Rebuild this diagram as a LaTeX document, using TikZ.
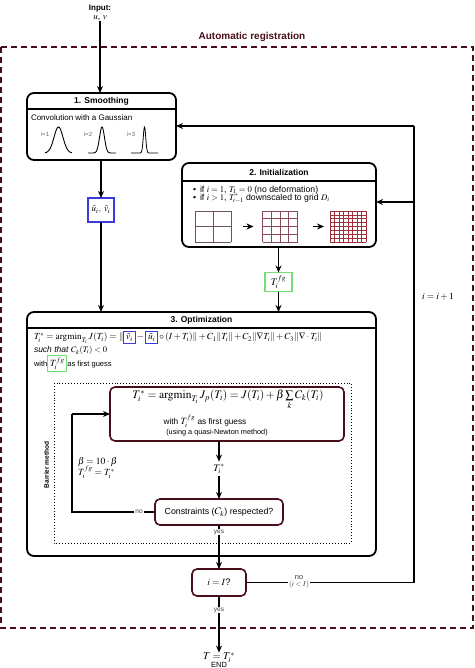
\documentclass[tikz,border=0pt]{standalone}
\usepackage{amsmath}
\usepackage{mathptmx}
\usepackage{fontspec}
\setmainfont{Liberation Sans}
\usetikzlibrary{arrows.meta}
\definecolor{dred}{HTML}{4A0E1A}
\definecolor{blu}{HTML}{3A3ADD}
\definecolor{grn}{HTML}{77DD77}
\definecolor{gridA}{HTML}{6B5555}
\definecolor{gridB}{HTML}{8A4A55}
\definecolor{gridC}{HTML}{A0303C}
\setlength{\fboxrule}{1pt}
\setlength{\fboxsep}{1.8pt}
\begin{document}
\begin{tikzpicture}[x=1pt,y=-1pt,
 every node/.style={inner sep=0pt, outer sep=0pt},
 arr/.style={-{Stealth[length=7pt,width=6pt]}, line width=1.1pt},
 plain/.style={line width=1.1pt},
 stage/.style={draw, line width=1.8pt, rounded corners=7pt},
 redbox/.style={draw=dred, line width=1.6pt, rounded corners=5pt},
 hdr/.style={font=\fontsize{8.5}{10}\selectfont\bfseries},
 txt/.style={font=\fontsize{8}{9.5}\selectfont},
 lbl/.style={font=\fontsize{6.5}{7.5}\selectfont, fill=white, inner sep=1pt, text=black!75},
 gi/.style={font=\fontsize{6}{7}\selectfont, text=black!60},
 gauss/.style={line width=0.9pt},
]
\useasboundingbox (0,0) rectangle (474,668);

% outer dashed frame
\draw[dred, line width=1.6pt, dash pattern=on 6pt off 4pt] (1,47) rectangle (473,628);
\node[font=\fontsize{10}{12}\selectfont\bfseries, text=dred] (title) at (252,37) {Automatic registration};

% input
\node[align=center, font=\fontsize{8}{9.5}\selectfont] (input) at (100,13) {\textbf{Input:}\\[-1pt]{\fontsize{9}{10}\selectfont$u$, $v$}};

% 1. Smoothing
\node[stage, minimum width=149pt, minimum height=67pt] (smooth) at (101.5,126.5) {};
\node[hdr] (smoothh) at (101.5,101) {1. Smoothing};
\draw[line width=1.4pt] (smooth.north west) ++(0,16) -- ++(149,0);
\node[txt, anchor=west] (conv) at (31,118) {Convolution with a Gaussian};
\node[gi] (g1l) at (45,134) {i=1};
\node[gi] (g2l) at (88,134) {i=2};
\node[gi] (g3l) at (131,134) {i=3};
\draw[gauss] plot[domain=-13.5:13.5, samples=61] ({58.5+\x},{153-26*exp(-\x*\x/40)});
\draw[gauss] plot[domain=-14:14, samples=61] ({102+\x},{153-26*exp(-\x*\x/12)});
\draw[gauss, line width=0.8pt] plot[domain=-13.5:13.5, samples=121] ({144.5+\x},{153-26*exp(-\x*\x/3)});

% blue box
\node[draw=blu, line width=1.2pt, minimum width=26pt, minimum height=24pt, inner sep=2pt, font=\fontsize{9}{10}\selectfont] (uv) at (101,210) {$\tilde u_i,\;\tilde v_i$};

% 2. Initialization
\node[stage, minimum width=194pt, minimum height=84pt] (init) at (279,205) {};
\node[hdr] (inith) at (279,172) {2. Initialization};
\draw[line width=1.4pt] (init.north west) ++(0,18) -- ++(194,0);
\node[font=\fontsize{8.7}{9.5}\selectfont, anchor=west, align=left] (bul) at (193,194.5) {\textbullet\hspace{4pt}if $i=1$, $T_1=0$ (no deformation)\\[-1.5pt]\textbullet\hspace{4pt}if $i>1$, $T^*_{i-1}$ downscaled to grid $D_i$};
\node[minimum width=36pt, minimum height=31pt] (gr1) at (213,226.5) {};
\node[minimum width=35pt, minimum height=31pt] (gr2) at (280,226.5) {};
\node[minimum width=36pt, minimum height=31pt] (gr3) at (348,226.5) {};
\foreach \k in {0,...,2}{
  \draw[gridA, line width=0.9pt] ({195+\k*18},211) -- ++(0,31);
  \draw[gridA, line width=0.9pt] (195,{211+\k*15.5}) -- ++(36,0);
}
\foreach \k in {0,...,4}{
  \draw[gridB, line width=0.8pt] ({262.5+\k*8.75},211) -- ++(0,31);
  \draw[gridB, line width=0.8pt] (262.5,{211+\k*7.75}) -- ++(35,0);
}
\foreach \k in {0,...,8}{
  \draw[gridC, line width=0.6pt] ({330+\k*4.5},211) -- ++(0,31);
  \draw[gridC, line width=0.6pt] (330,{211+\k*3.875}) -- ++(36,0);
}
\draw[arr, line width=1.3pt, shorten <=12pt, shorten >=9pt] (gr1.east) -- (gr2.west);
\draw[arr, line width=1.3pt, shorten <=15pt, shorten >=6pt] (gr2.east) -- (gr3.west);

% green box
\node[draw=grn, line width=1.2pt, minimum width=27pt, minimum height=19pt, inner sep=2pt, font=\fontsize{10}{11}\selectfont] (tfg) at (278.5,282) {$T_i^{fg}$};

% 3. Optimization
\node[stage, minimum width=349pt, minimum height=244pt] (opt) at (201.5,434) {};
\node[hdr] (opth) at (201.5,320) {3. Optimization};
\draw[line width=1.4pt] (opt.north west) ++(0,16) -- ++(349,0);
\node[font=\fontsize{9.3}{10}\selectfont, anchor=west] (form) at (34,337.5) {$T_i^* = \operatorname{argmin}_{T_i} J(T_i) = \|\fcolorbox{blu}{white}{$\tilde v_i$}-\fcolorbox{blu}{white}{$\tilde u_i$}\circ(I+T_i)\| + C_1\|T_i\| + C_2\|\nabla T_i\| + C_3\|\nabla\cdot T_i\|$};
\node[font=\fontsize{8.5}{9.5}\selectfont, anchor=west] (such) at (34,350.5) {\textit{such that} $C_k(T_i)<0$};
\node[font=\fontsize{7.5}{8.5}\selectfont, anchor=west] (with1) at (34,363.5) {with\fcolorbox{grn}{white}{\fontsize{9.5}{10}\selectfont$T_i^{fg}$}as first guess};

% barrier
\draw[dotted, line width=0.9pt] (54,383) rectangle (351,543);
\node[rotate=90, font=\fontsize{6.5}{8}\selectfont\bfseries] (barr) at (46.5,465) {Barrier method};
\node[redbox, minimum width=234pt, minimum height=54pt] (inner) at (227,414) {};
\node[font=\fontsize{11.5}{12}\selectfont] (iform) at (228,400) {$T_i^* = \operatorname{argmin}_{T_i} J_p(T_i) = J(T_i) + \beta \sum\limits_k C_k(T_i)$};
\node[font=\fontsize{8.3}{9}\selectfont] (with2) at (205,421) {with {\fontsize{9.5}{10}\selectfont$T_i^{fg}$} as first guess};
\node[font=\fontsize{7.3}{8}\selectfont] (qn) at (217,432.5) {(using a quasi-Newton method)};
\node[font=\fontsize{10}{11}\selectfont, inner sep=2.5pt] (tstar) at (219,469) {$T_i^*$};
\node[redbox, minimum width=128pt, minimum height=26pt, font=\fontsize{8.8}{10}\selectfont] (cons) at (219,512) {Constraints ({\fontsize{10}{11}\selectfont$C_k$}) respected?};
\node[font=\fontsize{9.5}{10.5}\selectfont, anchor=west, align=left] (beta) at (78,468) {$\beta = 10\cdot\beta$\\[-1.5pt]$T_i^{fg} = T_i^*$};
\coordinate (lb) at (72,512);
\coordinate (lt) at (72,414);
\draw[plain] (cons.west) -- (lb) -- (lt);
\draw[arr] (lt) -- (inner.west);
\node[lbl] (nolbl) at (139,512) {no};
\draw[arr] (inner.south -| cons.north) -- (tstar.north);
\draw[arr] (tstar.south) -- (cons.north);

% i = I?
\node[redbox, minimum width=54pt, minimum height=27pt, font=\fontsize{9.5}{10}\selectfont] (iI) at (219,582.5) {$i = I$?};
\draw[arr] (cons.south) -- (iI.north);
\node[lbl] (yes1) at (219,532) {yes};

% end
\node[align=center, font=\fontsize{7.5}{8.5}\selectfont] (endn) at (219,660) {{\fontsize{10.5}{11}\selectfont$T = T_i^*$}\\[-1pt]END};
\draw[arr] (iI.south) -- (endn.north);
\node[lbl] (yes2) at (219,610) {yes};

% loops
\coordinate (rb) at (414,582.5);
\coordinate (rm) at (414,202);
\coordinate (rt) at (414,126);
\draw[plain] (iI.east) -- (rb) -- (rt);
\draw[arr] (rt) -- (smooth.east |- rt);
\draw[arr] (rm) -- (init.east |- rm);
\node[lbl, align=center, font=\fontsize{7.5}{8}\selectfont] (nolbl2) at (299,582) {no\\[-1pt]$(i<I)$};
\node[font=\fontsize{9.5}{10}\selectfont] (inc) at (438,297) {$i = i + 1$};

% main flow arrows
\draw[arr] (input.south) -- (smooth.north -| input.south);
\draw[arr] (smooth.south -| uv.north) -- (uv.north);
\draw[arr] (uv.south) -- (opt.north -| uv.south);
\draw[arr] (init.south -| tfg.north) -- (tfg.north);
\draw[arr] (tfg.south) -- (opt.north -| tfg.south);
\end{tikzpicture}
\end{document}
